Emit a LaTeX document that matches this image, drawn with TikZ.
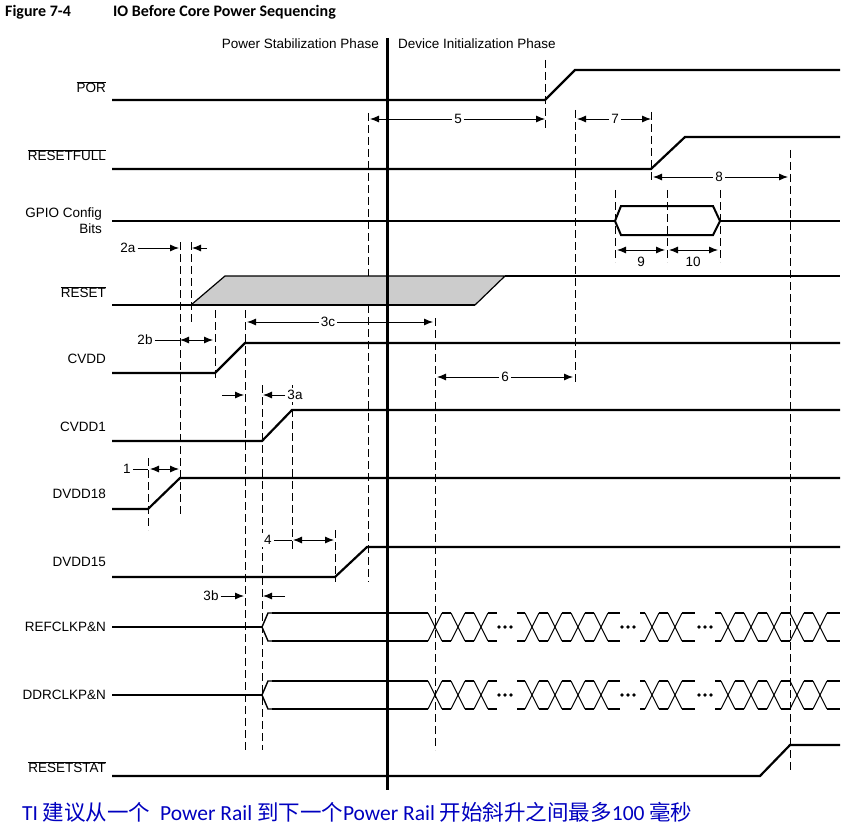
\documentclass[tikz,border=0pt]{standalone}
\usepackage{fontspec}
\setmainfont{Liberation Sans}
\newfontfamily\cjk{Noto Sans CJK SC}
\newfontfamily\tifont{Carlito}
\usetikzlibrary{arrows.meta}
\begin{document}
\begin{tikzpicture}[x=1pt,y=-1pt,
  sig/.style={line width=2.2pt},
  thin/.style={line width=1pt},
  dsh/.style={line width=0.9pt,dash pattern=on 8pt off 4pt},
  dim/.style={line width=0.9pt,-{Latex[length=9pt,width=7pt]}},
  ddim/.style={line width=0.9pt,{Latex[length=9pt,width=7pt]}-{Latex[length=9pt,width=7pt]}},
  lab/.style={anchor=east,font=\fontsize{13.5}{16}\selectfont,inner sep=0pt},
  num/.style={font=\fontsize{13.5}{16}\selectfont,inner sep=2pt,fill=white}]
\useasboundingbox (0,0) rectangle (856,837);
\fill[white] (0,0) rectangle (856,837);
% title
\node[anchor=west,font=\tifont\bfseries\fontsize{16}{18}\selectfont,inner sep=0] (t1) at (5,12) {Figure 7-4};
\node[anchor=west,font=\tifont\bfseries\fontsize{16}{18}\selectfont,inner sep=0] (t2) at (113,12) {IO Before Core Power Sequencing};
\node[anchor=east,font=\fontsize{13.5}{16}\selectfont,inner sep=0] (ph1) at (379,44) {Power Stabilization Phase};
\node[anchor=west,font=\fontsize{13.5}{16}\selectfont,inner sep=0] (ph2) at (398,44) {Device Initialization Phase};
% labels
\node[lab] (lpor) at (106,87) {$\overline{\mbox{POR}}$};
\node[lab] (lrf) at (106,155) {$\overline{\mbox{RESETFULL}}$};
\node[lab,align=right] (lgp) at (102,221) {GPIO Config\\Bits};
\node[lab] (lrs) at (106,292) {$\overline{\mbox{RESET}}$};
\node[lab] (lcv) at (106,359) {CVDD};
\node[lab] (lcv1) at (106,427) {CVDD1};
\node[lab] (ld18) at (106,494) {DVDD18};
\node[lab] (ld15) at (106,562) {DVDD15};
\node[lab] (lref) at (106,627) {REFCLKP\&N};
\node[lab] (lddr) at (106,695) {DDRCLKP\&N};
\node[lab] (lrst) at (106,767) {$\overline{\mbox{RESETSTAT}}$};
% dashed lines
\foreach \x/\a/\b in {545/60/130, 575/110/382, 651/112/182, 368/113/582, 435/318/750, 790/150/770, 180/242/515, 191/242/325, 215/310/380, 245/310/750, 262/385/750, 292/385/550, 335/530/582, 148/458/530, 615/190/262, 667/190/262, 720/190/262}
  \draw[dsh] (\x,\a) -- (\x,\b);
% signals
\draw[sig] (112,100) -- (545,100) -- (575,70) -- (840,70);
\draw[sig] (112,169) -- (651,169) -- (685,137) -- (840,137);
\draw[sig] (112,221) -- (615,221);
\draw[sig] (720,221) -- (840,221);
\draw[thin,line width=2pt] (615,221) -- (621,206) -- (713,206) -- (720,221) -- (713,235) -- (621,235) -- cycle;
\fill[gray!40] (191,305) -- (225,276) -- (505,276) -- (475,305) -- cycle;
\draw[line width=1.2pt] (191,305) -- (225,276) -- (505,276) -- (475,305);
\draw[sig] (505,276) -- (840,276);
\draw[sig] (112,305) -- (310,305);
\draw[line width=1.2pt] (310,305) -- (475,305);
\draw[sig] (112,373) -- (215,373) -- (245,343) -- (840,343);
\draw[sig] (112,441) -- (262,441) -- (292,410) -- (840,410);
\draw[sig] (112,509) -- (148,509) -- (180,478) -- (840,478);
\draw[sig] (112,577) -- (335,577) -- (367,547) -- (840,547);
\draw[sig] (112,776) -- (760,776) -- (790,745) -- (840,745);
% clocks
\foreach \m in {627,695}{
  \draw[sig] (112,\m) -- (262,\m);
  \draw[line width=1.4pt] (272,\m-14) -- (268,\m-14) -- (262,\m) -- (268,\m+14) -- (272,\m+14);
  \foreach \a/\b in {272/428,442/451,465/474,488/497,517/525,539/548,562/571,585/594,608/620,640/645,659/668,682/695,715/721,735/744,758/767,781/790,804/813,827/840}{
    \draw[line width=1.4pt] (\a,\m-14) -- (\b,\m-14);
    \draw[line width=1.4pt] (\a,\m+14) -- (\b,\m+14);}
  \foreach \c in {435,458,481,532,555,578,601,652,675,728,751,774,797,820}{
    \draw[line width=1pt] (\c-7,\m-14) -- (\c+7,\m+14);
    \draw[line width=1pt] (\c-7,\m+14) -- (\c+7,\m-14);}
  \foreach \d in {505,628,705}{
    \foreach \e in {-6,0,6} \fill (\d+\e,\m) circle (1.8pt);}
}
% main phase line
\draw[line width=3pt] (387,38) -- (387,790);
% dimension annotations
\node[num] (n5) at (458,119) {5};
\draw[dim] (n5) -- (545,119); \draw[dim] (n5) -- (370,119);
\node[num] (n7) at (615,119) {7};
\draw[dim] (n7) -- (651,119); \draw[dim] (n7) -- (577,119);
\node[num] (n8) at (719,177) {8};
\draw[dim] (n8) -- (788,177); \draw[dim] (n8) -- (653,177);
\node[num] (n9) at (641,262) {9};
\draw[ddim] (617,250) -- (665,250);
\node[num] (n10) at (693,262) {10};
\draw[ddim] (669,250) -- (718,250);
\node[num] (n2a) at (128,248) {2a};
\draw[dim] (n2a.east) -- (179,248);
\coordinate (e2a) at (207,248);
\draw[dim] (e2a) -- (192,248);
\node[num] (n2b) at (145,340) {2b};
\draw[line width=0.9pt] (n2b.east) -- (180,340);
\draw[ddim] (180,340) -- (213,340);
\node[num] (n3c) at (328,322) {3c};
\draw[dim] (n3c) -- (433,322); \draw[dim] (n3c) -- (247,322);
\node[num] (n6) at (505,377) {6};
\draw[dim] (n6) -- (573,377); \draw[dim] (n6) -- (437,377);
\node[num] (n3a) at (295,395) {3a};
\coordinate (s3a) at (222,395);
\draw[dim] (s3a) -- (244,395);
\draw[dim] (n3a.west) -- (263,395);
\node[num] (n1) at (127,469) {1};
\draw[line width=0.9pt] (n1.east) -- (148,469);
\draw[ddim] (150,469) -- (179,469);
\node[num] (n4) at (268,540) {4};
\draw[line width=0.9pt] (n4.east) -- (292,540);
\draw[ddim] (293,540) -- (334,540);
\node[num] (n3b) at (211,596) {3b};
\draw[dim] (n3b.east) -- (244,596);
\coordinate (e3b) at (285,596);
\draw[dim] (e3b) -- (263,596);
% footer
\node[anchor=west,inner sep=0,text=blue!75!black,font=\tifont\fontsize{21.5}{24}\selectfont] (foot) at (22,812) {TI {\cjk 建议从一个}\ \ Power Rail {\cjk 到下一个}Power Rail {\cjk 开始斜升之间最多}100 {\cjk 毫秒}};
\end{tikzpicture}
\end{document}
